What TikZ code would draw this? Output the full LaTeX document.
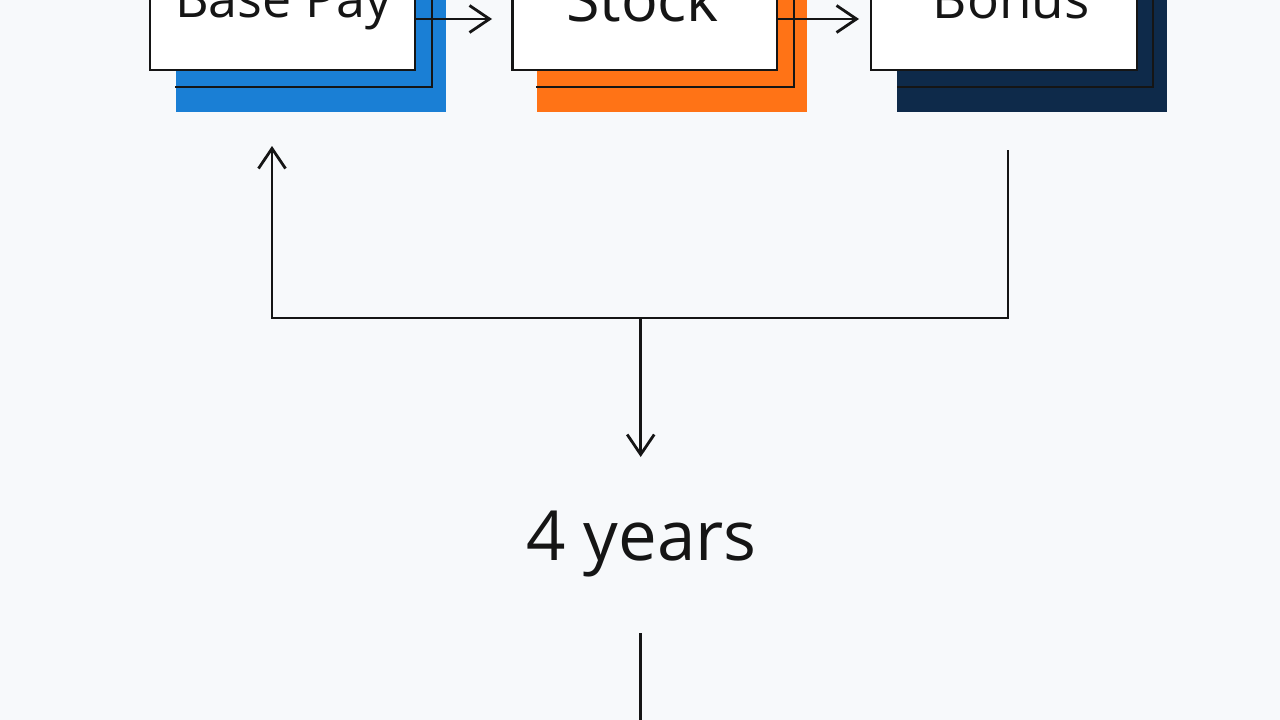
\documentclass[tikz,border=0pt]{standalone}
\usepackage{fontspec}
\setmainfont{Open Sans}
\usetikzlibrary{arrows.meta,calc}
\definecolor{bg}{HTML}{F7F9FB}
\definecolor{cblue}{HTML}{1A7FD5}
\definecolor{corange}{HTML}{FF7316}
\definecolor{cnavy}{HTML}{0E2A4A}
\definecolor{ink}{HTML}{151515}
\begin{document}
\begin{tikzpicture}[x=1pt,y=-1pt,
  frontbox/.style={draw=ink,line width=2.8pt,fill=white,rectangle,inner sep=0pt,minimum height=160pt},
  rim/.style={draw=ink,line width=2.8pt},
  lbl/.style={text=ink,inner sep=0pt,anchor=base},
  link/.style={draw=ink,line width=2.8pt},
  arr/.style={link,-{Straight Barb[length=20pt,width=27pt,line width=2.8pt]}}]
\useasboundingbox (0,0) rectangle (1280,720);
\fill[bg] (0,0) rectangle (1280,720);
% layers
\fill[cblue] (176,-20) rectangle (446,112);
\fill[corange] (537,-20) rectangle (807,112);
\fill[cnavy] (897,-20) rectangle (1167,112);
\draw[rim] (175,87) -- (432,87) -- (432,-20);
\draw[rim] (536,87) -- (794,87) -- (794,-20);
\draw[rim] (897,87) -- (1153,87) -- (1153,-20);
% front boxes
\node[frontbox,minimum width=265pt] (bp) at (282.5,-10) {};
\node[frontbox,minimum width=264.5pt] (st) at (644.8,-10) {};
\node[frontbox,minimum width=266pt] (bn) at (1004,-10) {};
\node[lbl,font=\fontsize{52}{60}\selectfont] (bpt) at (283.5,17.7) {Base Pay};
\node[lbl,font=\fontsize{61}{70}\selectfont] (stt) at (642.5,21.7) {Stock};
\node[lbl,font=\fontsize{53}{62}\selectfont] (bnt) at (1011,18.3) {Bonus};
% arrows between boxes
\coordinate (bpout) at ($(bp.east)+(0,29)$);
\coordinate (stin) at (492,19);
\coordinate (stout) at ($(st.east)+(0,29)$);
\coordinate (bnin) at (859,19);
\draw[arr] (bpout) -- (stin);
\draw[arr] (stout) -- (bnin);
% bracket
\coordinate (bnfoot) at (1008,150);
\coordinate (bphead) at (272,146);
\coordinate (junc) at (640.7,318);
\draw[arr] (bnfoot) |- (bphead |- junc) -- (bphead);
% years
\node[lbl,font=\fontsize{69}{80}\selectfont] (yr) at (641.5,560.5) {4 years};
\coordinate (yrin) at (640.7,457);
\draw[arr] (junc) -- (yrin);
\coordinate (yrout) at (640.7,633);
\coordinate (exitpt) at (640.7,730);
\draw[link] (yrout) -- (exitpt);
\end{tikzpicture}
\end{document}
